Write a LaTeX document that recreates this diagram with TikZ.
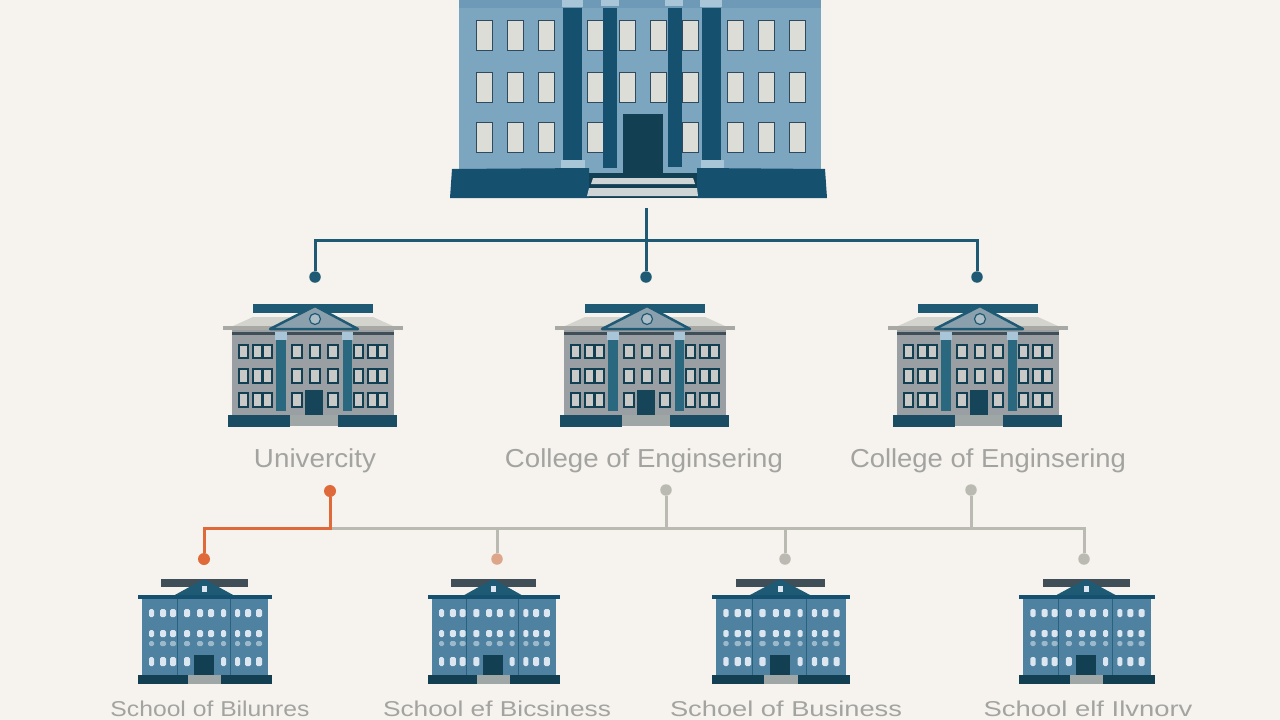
\documentclass[tikz,border=0pt]{standalone}
\usepackage{fontspec}
\setmainfont{Liberation Sans}
\definecolor{bg}{HTML}{F6F3EE}
\definecolor{navy}{HTML}{1F5A75}
\definecolor{deep}{HTML}{15506F}
\definecolor{dark}{HTML}{123F52}
\definecolor{wall}{HTML}{7CA5BF}
\definecolor{wallb}{HTML}{6E9AB8}
\definecolor{capc}{HTML}{A9C6D8}
\definecolor{glass}{HTML}{DDDDD8}
\definecolor{frame}{HTML}{2E4A5C}
\definecolor{graywall}{HTML}{9A9FA3}
\definecolor{roofc}{HTML}{D4D4CE}
\definecolor{eave}{HTML}{A8A8A4}
\definecolor{pedc}{HTML}{8AA0AD}
\definecolor{colc}{HTML}{2A6880}
\definecolor{smallwall}{HTML}{4F81A0}
\definecolor{smallwin}{HTML}{DCE6F0}
\definecolor{barc}{HTML}{3F4E57}
\definecolor{stepc}{HTML}{9FA6A6}
\definecolor{linec}{HTML}{BBBAB2}
\definecolor{orangec}{HTML}{E0693A}
\definecolor{tan}{HTML}{DDA68A}
\definecolor{labelc}{HTML}{A3A3A0}
\newcommand{\fitw}[2]{\resizebox{#1pt}{\height}{#2}}
\tikzset{
  x=1pt,y=-1pt,
  wire/.style={line width=3pt,color=navy},
  graywire/.style={line width=3pt,color=linec},
  orangewire/.style={line width=3pt,color=orangec},
  navydot/.style={circle,fill=navy,inner sep=0pt,minimum size=11.5pt},
  graydot/.style={circle,fill=linec,inner sep=0pt,minimum size=11.5pt},
  tandot/.style={circle,fill=tan,inner sep=0pt,minimum size=11.5pt},
  orangedot/.style={circle,fill=orangec,inner sep=0pt,minimum size=12pt},
  upper/.style={text=labelc,font=\fontsize{26}{30}\selectfont,inner sep=0pt,anchor=base},
  lower/.style={text=labelc,font=\fontsize{21.5}{24}\selectfont,inner sep=0pt,anchor=base},
  mainwin/.style={fill=glass,draw=frame,line width=1pt},
  midwin/.style={fill=glass!70!graywall,draw=dark,line width=1.2pt},
  smallw/.style={fill=smallwin,draw=none,rounded corners=1.5pt}
}
\newcommand{\midbuilding}[1]{%
\begin{scope}[shift={(#1,0)}]
  \fill[roofc] (-80,326) -- (-60,317) -- (60,317) -- (80,326) -- cycle;
  \fill[eave] (-90,326) rectangle (90,330);
  \fill[navy] (-60,304) rectangle (60,313);
  \fill[graywall] (-81,330) rectangle (81,416);
  \fill[barc] (-81,332) rectangle (81,334.5);
  \fill[pedc,draw=navy,line width=2.5pt,line join=round] (-43,329) -- (2,306) -- (45,329) -- cycle;
  \draw[navy,line width=1.2pt,fill=pedc!70!white] (2,319) circle (5.5);
  \foreach \y/\h in {345/13,369/14,393/14}{
    \foreach \x/\w in {-74/9,-60/9,-50/9,-21/10,-3/10,15/10,41/9,55/9,65/9}{
      \draw[midwin] (\x,\y) rectangle ++(\w,\h);
    }
  }
  \fill[colc] (-37,340) rectangle (-27,411);
  \fill[colc] (30,340) rectangle (39,411);
  \fill[capc] (-38,332) rectangle (-26,340);
  \fill[capc] (29,332) rectangle (40,340);
  \fill[dark!85!colc] (-8,390) rectangle (10,417);
  \fill[stepc] (-23,415) rectangle (25,426);
  \fill[navy!85!black] (-85,415) rectangle (-23,427);
  \fill[navy!85!black] (25,415) rectangle (84,427);
\end{scope}}
\newcommand{\smallbuilding}[2]{%
\begin{scope}[shift={(#1,0)},xscale=#2]
  \fill[barc] (-43,579) rectangle (44,587);
  \fill[smallwall] (-62,599) rectangle (64,676);
  \fill[navy] (-31,596) -- (0,579) -- (31,596) -- cycle;
  \fill[smallwin] (-2,586) rectangle (3,592);
  \fill[deep] (-66,595) rectangle (68,599);
  \draw[navy!80!smallwall,line width=1pt] (-27,599) -- (-27,675) (26,599) -- (26,675);
  \foreach \y/\h in {609/8,630/7,657/9}{
    \foreach \x/\w in {-55/5,-44/6,-34/6,-20/6,-7/6,4/6,17/5,31/5,41/6,52/6}{
      \fill[smallw] (\x,\y) rectangle ++(\w,\h);
    }
  }
  \foreach \x/\w in {-55/5,-44/6,-34/6,-20/6,-7/6,4/6,17/5,31/5,41/6,52/6}{
    \fill[smallw,opacity=.55] (\x,641) rectangle ++(\w,5);
  }
  \fill[smallwall] (-12,653) rectangle (12,675);
  \fill[dark] (-10,655) rectangle (10,677);
  \fill[dark] (-66,675) rectangle (68,684);
  \fill[stepc] (-16,675) rectangle (17,684);
\end{scope}}
\begin{document}
\begin{tikzpicture}
\useasboundingbox (0,0) rectangle (1280,720);
\fill[bg] (0,0) rectangle (1280,720);
% main building
\fill[wall] (459,0) rectangle (821,174);
\fill[wallb] (459,0) rectangle (821,8);
\foreach \y in {20,72,122}{
  \foreach \x in {476,507,538,587,727,758,789,682}{
    \draw[mainwin] (\x,\y) rectangle ++(16,30);
  }
}
\foreach \y in {20,72}{
  \foreach \x in {619,650}{
    \draw[mainwin] (\x,\y) rectangle ++(16,30);
  }
}
\fill[deep] (563,8) rectangle (582,160);
\fill[deep] (603,8) rectangle (617,168);
\fill[deep] (668,8) rectangle (682,167);
\fill[deep] (702,8) rectangle (721,160);
\fill[capc] (562,0) rectangle (583,7);
\fill[capc] (601,0) rectangle (619,6);
\fill[capc] (665,0) rectangle (683,6);
\fill[capc] (700,0) rectangle (722,7);
\fill[capc] (561,160) rectangle (585,168);
\fill[capc] (701,160) rectangle (724,168);
\fill[dark] (623,114) rectangle (663,174);
\fill[dark] (588,173) rectangle (698,198);
\fill[deep] (450,198) -- (452,169) -- (589,168) -- (589,198) -- cycle;
\fill[deep] (697,168) -- (825,169) -- (827,198) -- (697,198) -- cycle;
\fill[glass!85!wall] (593,178) -- (693,178) -- (695,184) -- (591,184) -- cycle;
\fill[glass!85!wall] (589,188) -- (697,188) -- (698,196) -- (587,196) -- cycle;
% top connectors
\coordinate (stemtop) at (646,208);
\coordinate (busnavy) at (646,240);
\node[navydot] (d1) at (315,277) {};
\node[navydot] (d2) at (646,277) {};
\node[navydot] (d3) at (977,277) {};
\draw[wire] (stemtop) -- (d2);
\draw[wire] (d1) |- (busnavy) -| (d3);
% middle row
\midbuilding{313}
\midbuilding{645}
\midbuilding{978}
\node[upper] (l1) at (315,467) {\fitw{122}{Univercity}};
\node[upper] (l2) at (644,467) {\fitw{278}{College of Enginsering}};
\node[upper] (l3) at (988,467) {\fitw{276}{College of Enginsering}};
% lower connectors
\node[orangedot] (o1) at (330,491) {};
\node[orangedot] (o2) at (204,559) {};
\node[tandot] (t1) at (497,559) {};
\node[graydot] (g1) at (666,490) {};
\node[graydot] (g2) at (971,490) {};
\node[graydot] (g3) at (785,559) {};
\node[graydot] (g4) at (1084,559) {};
\coordinate (junction) at (330,528);
\coordinate (busend) at (1084,528);
\draw[graywire] (junction) -- (busend) -- (g4);
\draw[graywire] (g1) -- (666,528);
\draw[graywire] (g2) -- (971,528);
\draw[graywire] (785,528) -- (g3);
\draw[graywire] (497,528) -- (t1);
\draw[orangewire,line join=miter] (o1) -- (junction) -| (o2);
% bottom row
\smallbuilding{204}{1}
\smallbuilding{493}{0.98}
\smallbuilding{780}{1.03}
\smallbuilding{1086}{1.01}
\node[lower] (b1) at (210,716) {\fitw{199}{School of Bilunres}};
\node[lower] (b2) at (497,716) {\fitw{228}{School ef Bicsiness}};
\node[lower] (b3) at (786,716) {\fitw{232}{Schoel of Business}};
\node[lower] (b4) at (1088,716) {\fitw{209}{School elf Ilvnorv}};
\end{tikzpicture}
\end{document}
